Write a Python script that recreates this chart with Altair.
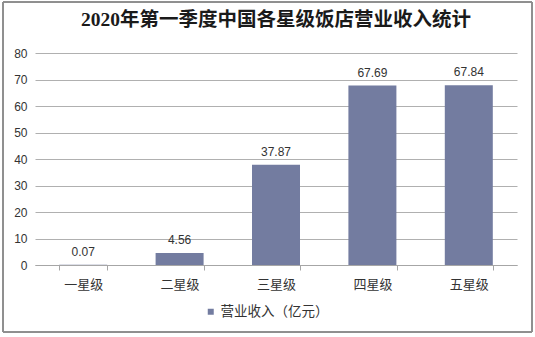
import altair as alt
import pandas as pd

# Hotel revenue by star rating, Q1 2020 (100 million yuan)
categories = ["一星级", "二星级", "三星级", "四星级", "五星级"]
revenue = [0.07, 4.56, 37.87, 67.69, 67.84]
series_name = "营业收入（亿元）"
y_ticks = [0, 10, 20, 30, 40, 50, 60, 70, 80]

df = pd.DataFrame({"category": categories, "value": revenue, "series": series_name})

bar_color = "#737ca0"
latin_cjk = "Liberation Sans, Noto Sans CJK SC"

base = alt.Chart(df).encode(
    x=alt.X(
        "category:N",
        sort=categories,
        scale=alt.Scale(paddingInner=0.5, paddingOuter=0.25),
        axis=alt.Axis(
            title=None,
            labelAngle=0,
            labelFont=latin_cjk,
            labelFontSize=13,
            labelColor="#333333",
            labelPadding=8,
            tickBand="extent",
            tickSize=5,
            tickColor="#a6a6a6",
            domainColor="#a6a6a6",
            grid=False,
        ),
    ),
    y=alt.Y(
        "value:Q",
        scale=alt.Scale(domain=[0, 80], nice=False),
        axis=alt.Axis(
            title=None,
            values=y_ticks,
            labelFont="Liberation Sans",
            labelFontSize=12,
            labelColor="#333333",
            labelPadding=8,
            domain=False,
            ticks=False,
            gridColor="#b0b0b0",
            gridWidth=1,
        ),
    ),
)

bars = base.mark_bar(size=48).encode(
    color=alt.Color(
        "series:N",
        scale=alt.Scale(range=[bar_color]),
        legend=alt.Legend(
            title=None,
            orient="none",
            legendX=169,
            legendY=252,
            symbolType="square",
            symbolSize=36,
            symbolStrokeWidth=0,
            labelFont=latin_cjk,
            labelFontSize=13.5,
            labelColor="#333333",
            labelOffset=3,
        ),
    )
)

labels = base.mark_text(
    dy=-13, font="Liberation Sans", fontSize=12, color="#333333"
).encode(text=alt.Text("value:Q", format=".2f"))

# thin grey frame around the whole figure
frame = alt.Chart(df).mark_rect(
    fill=None, stroke="#8c8c8c", strokeWidth=1
).encode(
    x=alt.value(-32), x2=alt.value(497), y=alt.value(-51), y2=alt.value(279)
)

chart = (
    alt.layer(frame, bars, labels)
    .properties(
        width=482,
        height=212,
        padding={"left": 35, "top": 53, "right": 18, "bottom": 72},
        autosize=alt.AutoSizeParams(type="none"),
        title=alt.TitleParams(
            "2020年第一季度中国各星级饭店营业收入统计",
            font="Liberation Serif, Noto Sans CJK SC",
            fontSize=19.5,
            fontWeight="bold",
            color="#1a1a1a",
            anchor="middle",
            offset=-29,
        ),
        background="white",
    )
    .configure_view(stroke=None)
)

chart.save("out.html", embed_options={"renderer": "svg", "actions": False})
